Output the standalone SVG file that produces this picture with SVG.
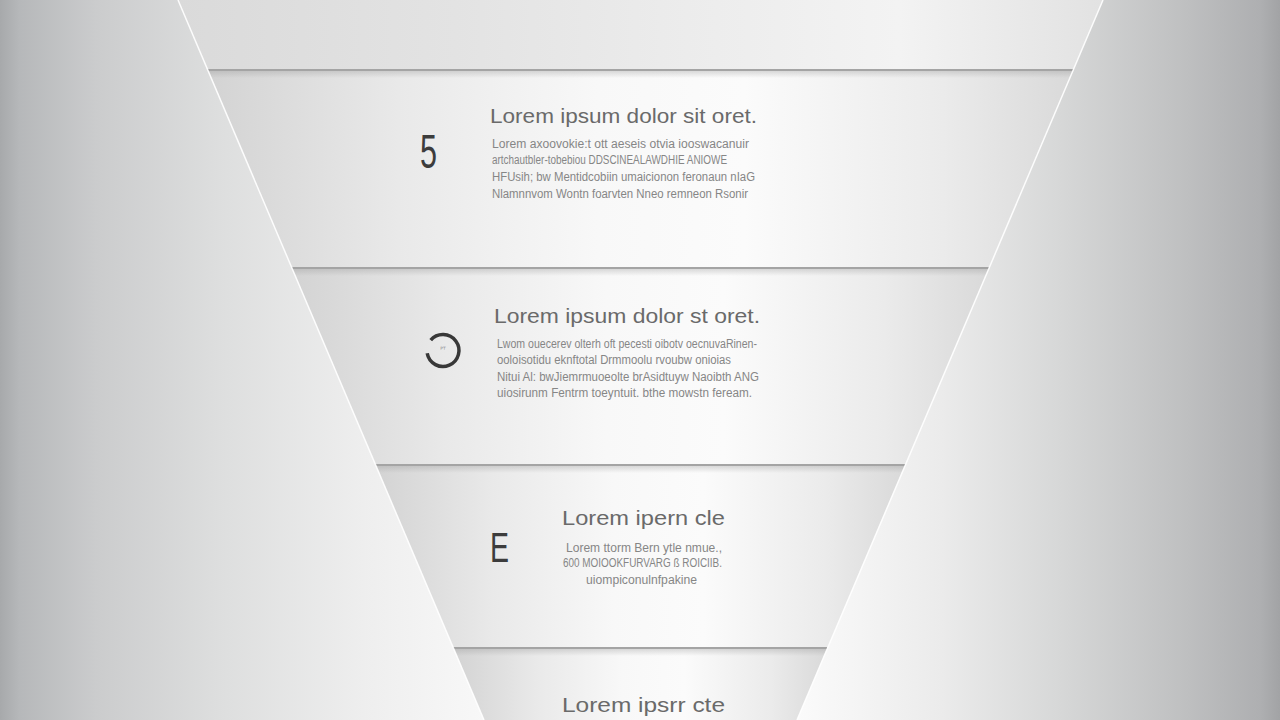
<svg xmlns="http://www.w3.org/2000/svg" width="1280" height="720" viewBox="0 0 1280 720">
  <style>
    .title { font-family: "Liberation Sans", Arial, sans-serif; font-size: 21px; fill: #6a6a6a; }
    .body { font-family: "Liberation Sans", Arial, sans-serif; font-size: 12px; fill: #868686; }
    .icon { font-family: "Liberation Sans", Arial, sans-serif; fill: #3c3c3c; }
    .groove { stroke: #a4a4a4; stroke-width: 2; }
    .edge { stroke: #ffffff; stroke-width: 1.5; stroke-opacity: 0.9; fill: none; }
  </style>
  <defs>
    <linearGradient id="gLeft" gradientUnits="userSpaceOnUse" x1="0" y1="0" x2="484" y2="0">
      <stop offset="0" stop-color="#a7a9ab"/>
      <stop offset="0.04" stop-color="#b6b8ba"/>
      <stop offset="0.2" stop-color="#cbcccd"/>
      <stop offset="0.45" stop-color="#dddede"/>
      <stop offset="0.75" stop-color="#eeeeee"/>
      <stop offset="1" stop-color="#f8f8f8"/>
    </linearGradient>
    <linearGradient id="gRight" gradientUnits="userSpaceOnUse" x1="797" y1="0" x2="1280" y2="0">
      <stop offset="0" stop-color="#fbfbfb"/>
      <stop offset="0.3" stop-color="#ebebeb"/>
      <stop offset="0.55" stop-color="#d6d7d7"/>
      <stop offset="0.8" stop-color="#bfc0c1"/>
      <stop offset="0.96" stop-color="#aeafb1"/>
      <stop offset="1" stop-color="#a2a3a5"/>
    </linearGradient>
    <linearGradient id="gBand" x1="0" y1="0" x2="1" y2="0">
      <stop offset="0" stop-color="#d3d3d3"/>
      <stop offset="0.22" stop-color="#e9e9e9"/>
      <stop offset="0.45" stop-color="#f8f8f8"/>
      <stop offset="0.62" stop-color="#fbfbfb"/>
      <stop offset="0.85" stop-color="#ebebeb"/>
      <stop offset="1" stop-color="#d9d9d9"/>
    </linearGradient>
    <linearGradient id="gTop" x1="0" y1="0" x2="1" y2="0">
      <stop offset="0" stop-color="#dadada"/>
      <stop offset="0.3" stop-color="#e3e3e3"/>
      <stop offset="0.55" stop-color="#ececec"/>
      <stop offset="0.78" stop-color="#f3f3f3"/>
      <stop offset="1" stop-color="#e2e2e2"/>
    </linearGradient>
    <linearGradient id="gShadow" x1="0" y1="0" x2="0" y2="1">
      <stop offset="0" stop-color="#9a9a9a" stop-opacity="0.35"/>
      <stop offset="1" stop-color="#9a9a9a" stop-opacity="0"/>
    </linearGradient>
  </defs>

  <rect width="1280" height="720" fill="#e8e8e8"/>

  <g id="band-top">
    <polygon points="178,0 1103,0 1073,70 208,70" fill="url(#gTop)"/>
  </g>

  <g id="band-1">
    <polygon points="208,70 1073,70 989,268 292,268" fill="url(#gBand)"/>
    <polygon points="208,71 1073,71 1070,78 211,78" fill="url(#gShadow)"/>
    <line class="groove" x1="208" y1="70" x2="1073" y2="70"/>
    <text class="icon" x="420" y="168" font-size="48" textLength="17" lengthAdjust="spacingAndGlyphs">5</text>
    <text class="title" x="490" y="123" textLength="267" lengthAdjust="spacingAndGlyphs">Lorem ipsum dolor sit oret.</text>
    <text class="body" x="492" y="148" textLength="257" lengthAdjust="spacingAndGlyphs">Lorem axoovokie:t ott aeseis otvia iooswacanuir</text>
    <text class="body" x="492" y="164" textLength="235" lengthAdjust="spacingAndGlyphs">artchautbler-tobebiou DDSCINEALAWDHIE ANIOWE</text>
    <text class="body" x="492" y="181" textLength="263" lengthAdjust="spacingAndGlyphs">HFUsih; bw Mentidcobiin umaicionon feronaun nIaG</text>
    <text class="body" x="492" y="198" textLength="256" lengthAdjust="spacingAndGlyphs">Nlamnnvom Wontn foarvten Nneo remneon Rsonir</text>
  </g>

  <g id="band-2">
    <polygon points="292,268 989,268 905,465 375,465" fill="url(#gBand)"/>
    <polygon points="292,269 989,269 986,276 295,276" fill="url(#gShadow)"/>
    <line class="groove" x1="292" y1="268" x2="989" y2="268"/>
    <path d="M 430.7 340.2 A 16 16 0 1 1 427.2 353.3" fill="none" stroke="#383838" stroke-width="3.5"/>
    <text x="443" y="352" font-family="'DejaVu Sans', sans-serif" font-size="7" fill="#8a8a8a" text-anchor="middle">ᴾᵀ</text>
    <text class="title" x="494" y="323" textLength="266" lengthAdjust="spacingAndGlyphs">Lorem ipsum dolor st oret.</text>
    <text class="body" x="497" y="348" textLength="260" lengthAdjust="spacingAndGlyphs">Lwom ouecerev olterh oft pecesti oibotv oecnuvaRinen-</text>
    <text class="body" x="497" y="364" textLength="234" lengthAdjust="spacingAndGlyphs">ooloisotidu eknftotal Drmmoolu rvoubw onioias</text>
    <text class="body" x="497" y="381" textLength="262" lengthAdjust="spacingAndGlyphs">Nitui Al: bwJiemrmuoeolte brAsidtuyw Naoibth ANG</text>
    <text class="body" x="497" y="397" textLength="255" lengthAdjust="spacingAndGlyphs">uiosirunm Fentrm toeyntuit. bthe mowstn feream.</text>
  </g>

  <g id="band-3">
    <polygon points="375,465 905,465 827,648 453,648" fill="url(#gBand)"/>
    <polygon points="375,466 905,466 902,473 378,473" fill="url(#gShadow)"/>
    <line class="groove" x1="375" y1="465" x2="905" y2="465"/>
    <text class="icon" x="490" y="562" font-size="43" textLength="19" lengthAdjust="spacingAndGlyphs">E</text>
    <text class="title" x="562" y="525" font-size="22" textLength="163" lengthAdjust="spacingAndGlyphs">Lorem ipern cle</text>
    <text class="body" x="566" y="552" textLength="156" lengthAdjust="spacingAndGlyphs">Lorem ttorm Bern ytle nmue.,</text>
    <text class="body" x="563" y="567" textLength="159" lengthAdjust="spacingAndGlyphs">600 MOIOOKFURVARG ß ROICIIB.</text>
    <text class="body" x="586" y="584" textLength="111" lengthAdjust="spacingAndGlyphs">uiompiconulnfpakine</text>
  </g>

  <g id="band-4">
    <polygon points="453,648 827,648 797,720 483,720" fill="url(#gBand)"/>
    <polygon points="453,649 827,649 824,656 456,656" fill="url(#gShadow)"/>
    <line class="groove" x1="453" y1="648" x2="827" y2="648"/>
    <text class="title" x="562" y="712" font-size="23" textLength="163" lengthAdjust="spacingAndGlyphs">Lorem ipsrr cte</text>
  </g>

  <g id="panel-left">
    <polygon points="0,0 178,0 484,720 0,720" fill="url(#gLeft)"/>
    <line class="edge" x1="178" y1="0" x2="484" y2="720"/>
  </g>
  <g id="panel-right">
    <polygon points="1103,0 1280,0 1280,720 797,720" fill="url(#gRight)"/>
    <line class="edge" x1="1103" y1="0" x2="797" y2="720"/>
  </g>
</svg>
